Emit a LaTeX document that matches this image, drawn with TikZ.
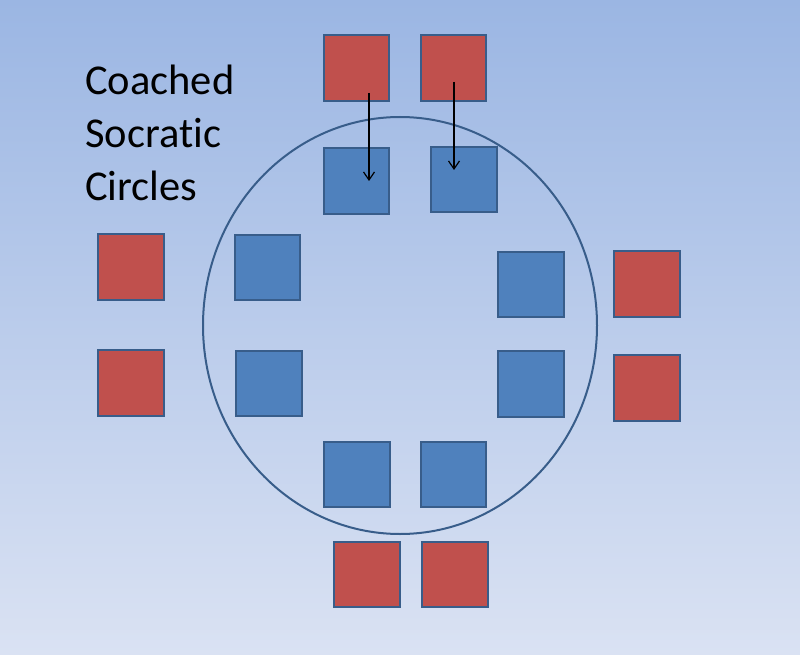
\documentclass[tikz,border=0pt]{standalone}
\usepackage{fontspec}
\setmainfont{Carlito}[Ligatures={NoCommon,NoRare}]
\usetikzlibrary{arrows.meta}
\definecolor{seatblue}{HTML}{4F81BD}
\definecolor{seatred}{HTML}{C0504D}
\definecolor{seatline}{HTML}{385D8A}
\definecolor{skytop}{RGB}{155,182,227}
\definecolor{skybottom}{RGB}{218,226,243}
\tikzset{
  seat/.style={rectangle, draw=seatline, line width=1.8pt, minimum size=65.5pt, inner sep=0pt},
  innerseat/.style={seat, fill=seatblue},
  outerseat/.style={seat, fill=seatred},
  move/.style={-{Straight Barb[length=8pt,width=11pt]}, line width=1.2pt}
}
\begin{document}
\begin{tikzpicture}[x=1pt, y=-1pt]
    \shade[top color=skytop, bottom color=skybottom] (0,0) rectangle (800,655);
    \useasboundingbox (0,0) rectangle (800,655);

    \node[font=\fontsize{42.5}{53}\selectfont, align=left, anchor=north west, inner sep=0pt] (title) at (85,64.5) {Coached\\Socratic\\Circles};

    \draw[seatline, line width=2pt] (400,325.5) ellipse [x radius=197, y radius=208.5];

    % inner circle
    \node[innerseat] at (356.5,181)   (i1) {};
    \node[innerseat] at (464,179.5)   (i2) {};
    \node[innerseat] at (531,284.5)   (i3) {};
    \node[innerseat] at (531,384)     (i4) {};
    \node[innerseat] at (453.5,474.5) (i5) {};
    \node[innerseat] at (357,474.5)   (i6) {};
    \node[innerseat] at (269,383.5)   (i7) {};
    \node[innerseat] at (267.5,267.5) (i8) {};

    % outer circle
    \node[outerseat] at (356.5,68)  (o1) {};
    \node[outerseat] at (453.5,68)  (o2) {};
    \node[outerseat] at (647,284)   (o3) {};
    \node[outerseat] at (647,388)   (o4) {};
    \node[outerseat] at (455,574.5) (o5) {};
    \node[outerseat] at (367,574.5) (o6) {};
    \node[outerseat] at (131,383)   (o7) {};
    \node[outerseat] at (131,267)   (o8) {};

    \coordinate (m1) at (369,93);
    \coordinate (n1) at (369,181);
    \coordinate (m2) at (454,82);
    \coordinate (n2) at (454,170);
    \draw [move] (m1) -- (n1);
    \draw [move] (m2) -- (n2);
\end{tikzpicture}
\end{document}
